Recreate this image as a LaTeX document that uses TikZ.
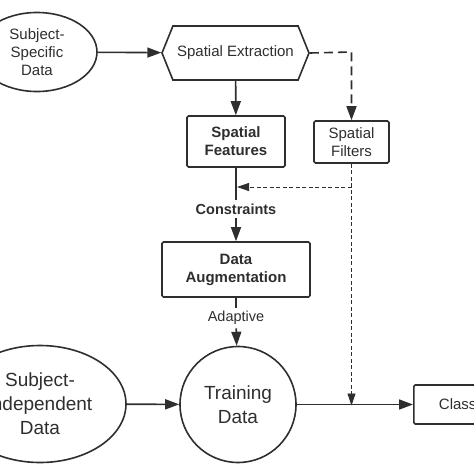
\documentclass[tikz,border=0pt]{standalone}
\usepackage{fontspec}
\setmainfont{Liberation Sans}
\usetikzlibrary{arrows.meta, shapes, positioning}
\definecolor{ink}{HTML}{2E2E2E}
\tikzset{
  box/.style = {draw=ink, line width=1.6pt, rounded corners=1.5pt, align=center,
    text=ink, font=\fontsize{15}{18}\selectfont},
  blob/.style = {draw=ink, line width=1.6pt, ellipse, align=center, text=ink},
  flow/.style = {draw=ink, line width=1.6pt, -{Triangle[length=14pt, width=10pt]}},
  hint/.style = {draw=ink, line width=0.8pt, dash pattern=on 4pt off 2.5pt,
    -{Triangle[length=12pt, width=8pt]}},
  tag/.style = {text=ink, font=\fontsize{14.5}{17}\selectfont}
}

\begin{document}
\begin{tikzpicture}[x=1pt, y=-1pt]

    \useasboundingbox (0,0) rectangle (474,474);

    %% Inputs
    \node[blob, minimum width=120pt, minimum height=79pt,
      font=\fontsize{15}{18}\selectfont] (ssd) at (37,52) {Subject-\\Specific\\Data};
    \node[blob, minimum width=172pt, minimum height=117pt,
      font=\fontsize{19}{24}\selectfont] (sid) at (40,404) {Subject-\\independent\\Data};

    %% Processing
    \node[box, signal, signal to=west and east, signal pointer angle=136,
      minimum width=147pt, minimum height=54pt, rounded corners=0pt] (extract) at (235.5,53) {Spatial Extraction};
    \node[box, minimum width=98pt, minimum height=51pt,
      font=\bfseries\fontsize{15}{18}\selectfont] (feat) at (236,141.5) {Spatial\\Features};
    \node[box, minimum width=75pt, minimum height=42pt] (filt) at (351.5,142) {Spatial\\Filters};
    \node[box, minimum width=148pt, minimum height=55pt,
      font=\bfseries\fontsize{15}{18}\selectfont] (aug) at (236,269.5) {Data\\Augmentation};
    \node[blob, circle, minimum size=116pt,
      font=\fontsize{19}{24}\selectfont] (train) at (238,404.5) {Training\\Data};
    \node[box, minimum width=130pt, minimum height=39pt, anchor=west] (clf) at (413,404.5) {\hspace*{-18pt}Classifier};

    %% Labels
    \node[tag, font=\bfseries\fontsize{14.5}{17}\selectfont] (cons) at (236,209) {Constraints};
    \node[tag] (adapt) at (236,318) {Adaptive};

    %% Junctions
    \coordinate (bend) at (351.5,52);
    \coordinate (merge) at (236,187);
    \coordinate (join) at (351.5,404.5);

    %% Connectors
    \draw[flow] (ssd) -- (extract);
    \draw[flow] (extract) -- (feat);
    \draw[draw=ink, line width=1.6pt] (feat) -- (cons);
    \draw[flow] (cons) -- (aug);
    \draw[draw=ink, line width=1.6pt] (aug) -- (adapt);
    \draw[flow] (adapt) -- (train);
    \draw[flow] (sid) -- (train);
    \draw[flow] (train) -- (clf);
    \draw[draw=ink, line width=1.6pt, dash pattern=on 9pt off 5pt,
      -{Triangle[length=14pt, width=10pt]}] (extract.east) -- (bend) -- (filt);
    \draw[hint] (filt.south |- merge) -- ([xshift=1pt]merge);
    \draw[hint] (filt) -- ([yshift=-1pt]join);

\end{tikzpicture}
\end{document}
